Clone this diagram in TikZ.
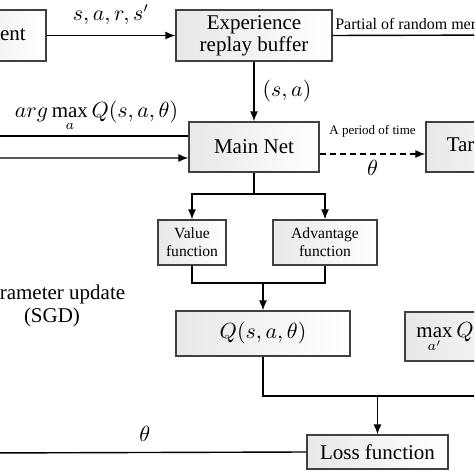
\documentclass[tikz,border=0pt]{standalone}
\usepackage{fontspec}
\setmainfont{Liberation Serif}
\usetikzlibrary{arrows.meta}

\begin{document}
\begin{tikzpicture}[x = 0.5pt, y = -0.5pt, line width = 0.7pt,
        >={Latex[length=5pt,width=4pt]},
        box/.style = {draw = black!75, line width = 0.6pt, left color = black!9, right color = white,
            align = center, inner sep = 0pt, font = \fontsize{10.5}{11}\selectfont},
        smallbox/.style = {box, font = \fontsize{7.8}{9}\selectfont},
        lab/.style = {inner sep = 1pt, font = \fontsize{10.5}{12}\selectfont}]
        \useasboundingbox (0,0) rectangle (474,474);
        \clip (0,0) rectangle (474,474);
        
        \node[box, minimum width = 46pt, minimum height = 25.5pt] (agent) at (0,35.5) {Agent};
        \node[box, minimum width = 78pt, minimum height = 25.5pt] (replay) at (254,35.5) {Experience\\replay buffer};
        \node[box, minimum width = 65pt, minimum height = 25pt] (main) at (254,147) {Main Net};
        \node[box, minimum width = 65pt, minimum height = 25pt] (target) at (491,147) {Target Net};
        
        \node[smallbox, minimum width = 34pt, minimum height = 22.5pt] (value) at (192,242.5) {Value\\function};
        \node[smallbox, minimum width = 52pt, minimum height = 22.5pt] (adv) at (325,242.5) {Advantage\\function};
        
        \node[box, minimum width = 87pt, minimum height = 22.5pt] (qnet) at (263,333.5) {$Q(s,a,\theta)$};
        \node[box, minimum width = 87pt, minimum height = 24.5pt] (qmax) at (492,336.5) {$\max\limits_{a'} Q(s',a',\theta^{-})$};
        \node[box, minimum width = 70.5pt, minimum height = 17pt] (loss) at (377.5,452) {Loss function};
        
        \node[lab, align = center, font = \fontsize{10.5}{11.5}\selectfont] (sgd) at (52,306) {Parameter update\\(SGD)};
        
        % agent and memory
        \draw[->] (agent.east) -- node[lab, above = 4pt] {$s,a,r,s'$} (replay.west);
        \coordinate (mem) at (520,35);
        \draw (replay.east) -- node[lab, pos = 0, anchor = south west, font = \fontsize{8}{9}\selectfont] {Partial of random memory} (mem);
        \draw[->] (replay.south) -- node[lab, right = 3pt] {$(s,a)$} (main.north);
        
        % action and parameter update
        \coordinate (act) at (-60,136);
        \draw[->] ([yshift = 5.5pt]main.west) -- node[lab, above = 1pt, pos = 0.37] {$arg\max\limits_a Q(s,a,\theta)$} (act);
        \coordinate (upd) at (-20,453);
        \draw[->] (loss.west) -- node[lab, above = 4pt, pos = 0.495] {$\theta$} (upd) -- (-20,158) -- ([yshift = -5.5pt]main.west);
        
        % target copy
        \draw[->, dashed, dash pattern = on 3pt off 2pt] ([yshift = -3.5pt]main.east) -- node[lab, above = 7pt, font = \fontsize{6.5}{8}\selectfont] {A period of time} node[lab, below = 2pt] {$\theta$} ([yshift = -3.5pt]target.west);
        
        % dueling streams
        \coordinate (split) at (254,194);
        \draw (main.south) -- (split);
        \draw[->] (split) -| (value.north);
        \draw[->] (split) -| (adv.north);
        \coordinate (join) at (263,283);
        \draw (value.south) |- (join) -| (adv.south);
        \draw[->] (join) -- (qnet.north);
        
        % loss
        \coordinate (merge) at (377.5,396);
        \draw (qnet.south) |- (merge) -| (qmax.south);
        \draw[->] (merge) -- (loss.north);
    \end{tikzpicture}
\end{document}
